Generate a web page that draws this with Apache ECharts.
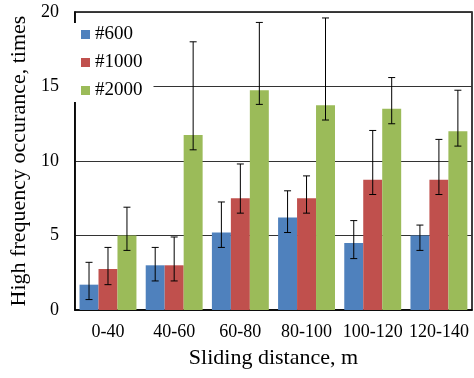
<!DOCTYPE html>
<html>
<head>
<meta charset="utf-8">
<script src="https://cdn.jsdelivr.net/npm/echarts@6/dist/echarts.min.js"></script>
<style>html,body{margin:0;padding:0;background:#fff;}#c{width:474px;height:378px;}</style>
</head>
<body>
<div id="c"></div>
<script>
var categories = ['0-40', '40-60', '60-80', '80-100', '100-120', '120-140'];
var seriesNames = ['#600', '#1000', '#2000'];
var values600 = [1.7, 3.0, 5.2, 6.2, 4.5, 5.0];
var values1000 = [2.75, 3.0, 7.5, 7.5, 8.75, 8.75];
var values2000 = [5.0, 11.75, 14.75, 13.75, 13.5, 12.0];
var errHigh600 = [3.2, 4.2, 7.25, 8.0, 6.0, 5.7];
var errLow600 = [0.7, 1.95, 4.2, 5.2, 3.45, 4.0];
var errHigh1000 = [4.2, 4.9, 9.8, 9.0, 12.05, 11.45];
var errLow1000 = [1.7, 1.95, 6.5, 6.5, 7.75, 7.75];
var errHigh2000 = [6.9, 18.0, 19.3, 19.6, 15.6, 14.75];
var errLow2000 = [4.0, 10.75, 13.8, 12.75, 12.5, 11.0];
var yTicks = [0, 5, 10, 15, 20];

var colors = ['#4F81BD', '#C0504D', '#9BBB59'];
var allValues = [values600, values1000, values2000];
var allHigh = [errHigh600, errHigh1000, errHigh2000];
var allLow = [errLow600, errLow1000, errLow2000];
var catGap = 0.14;
var font = 'Liberation Serif, Times New Roman, serif';

var series = [];
seriesNames.forEach(function (name, i) {
  series.push({
    name: name, type: 'bar', data: allValues[i],
    itemStyle: { color: colors[i] },
    barGap: '0%', barCategoryGap: (catGap * 100) + '%',
    z: 2
  });
});
seriesNames.forEach(function (name, i) {
  var data = categories.map(function (c, k) { return [k, allLow[i][k], allHigh[i][k]]; });
  series.push({
    type: 'custom', name: name + '_err', data: data, z: 5,
    renderItem: function (params, api) {
      var k = api.value(0);
      var lo = api.coord([k, api.value(1)]);
      var hi = api.coord([k, api.value(2)]);
      var cw = api.size([1, 0])[0];
      var bw = cw * (1 - catGap) / 3;
      var x = lo[0] + (i - 1) * bw;
      var cap = 3.5;
      var st = { stroke: '#000', lineWidth: 1 };
      return {
        type: 'group', children: [
          { type: 'line', shape: { x1: x, y1: hi[1], x2: x, y2: lo[1] }, style: st },
          { type: 'line', shape: { x1: x - cap, y1: hi[1], x2: x + cap, y2: hi[1] }, style: st },
          { type: 'line', shape: { x1: x - cap, y1: lo[1], x2: x + cap, y2: lo[1] }, style: st }
        ]
      };
    },
    encode: { x: 0, y: [1, 2] },
    silent: true
  });
});

var chart = echarts.init(document.getElementById('c'));
chart.setOption({
  animation: false,
  backgroundColor: '#fff',
  textStyle: { fontFamily: font },
  grid: { left: 61, right: 2, top: 12, bottom: 68, show: true, borderColor: '#000', borderWidth: 1.5, backgroundColor: 'transparent' },
  legend: {
    data: seriesNames, orient: 'vertical', left: 70, top: 23,
    itemWidth: 9, itemHeight: 9, itemGap: 9, icon: 'rect',
    backgroundColor: '#fff', padding: [2, 11, 2, 11],
    textStyle: { fontFamily: font, fontSize: 19, color: '#000' }
  },
  xAxis: {
    type: 'category', data: categories,
    name: 'Sliding distance, m', nameLocation: 'middle', nameGap: 37,
    nameTextStyle: { fontFamily: font, fontSize: 22, color: '#000' },
    axisLine: { lineStyle: { color: '#000', width: 1.5 } },
    axisTick: { show: false },
    axisLabel: { fontFamily: font, fontSize: 18, color: '#000', margin: 13, interval: 0 }
  },
  yAxis: {
    type: 'value', min: yTicks[0], max: yTicks[yTicks.length - 1], interval: 5,
    name: 'High frequency occurance, times', nameLocation: 'middle', nameGap: 37,
    nameTextStyle: { fontFamily: font, fontSize: 22, color: '#000' },
    axisLine: { show: true, lineStyle: { color: '#000', width: 1.5 } },
    axisTick: { show: false },
    axisLabel: { fontFamily: font, fontSize: 18, color: '#000', margin: 16 },
    splitLine: { lineStyle: { color: '#333', width: 1 } }
  },
  series: series
});
</script>
</body>
</html>
